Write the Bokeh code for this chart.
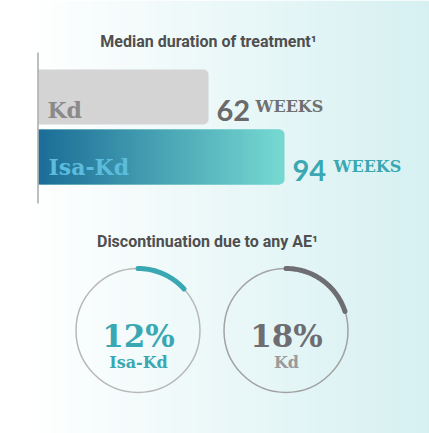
import numpy as np
from bokeh.plotting import figure
from bokeh.models import Range1d, ColumnDataSource
from bokeh.core.properties import value
from bokeh.embed import file_html
from bokeh.resources import INLINE

# ---------------- data ----------------
bar_groups = ["Kd", "Isa-Kd"]
median_weeks = [62, 94]
week_unit = "WEEKS"
title_top = "Median duration of treatment\u00b9"

discont_groups = ["Isa-Kd", "Kd"]
discont_pct = [12, 18]
title_bottom = "Discontinuation due to any AE\u00b9"

# ---------------- styles ----------------
TEAL = "#3aa8b3"
GRAY_DARK = "#6e6e72"
BAR_GRAY = "#d4d4d4"
GRAD_START = (27, 109, 151)
GRAD_END = (116, 215, 208)
BG_END = (214, 240, 241)

W, H = 429, 433
p = figure(width=W, height=H, x_range=Range1d(0, W), y_range=Range1d(H, 0),
           x_axis_type=None, y_axis_type=None, output_backend="svg",
           toolbar_location=None, min_border=0)
p.grid.visible = False
p.outline_line_color = None
p.background_fill_color = "white"
p.border_fill_color = "white"

# week scale for the bars (bars start left of 0 to leave room for labels)
p.extra_x_ranges = {"weeks": Range1d(-25.58, 155.05)}
BAR_ORIGIN = -9.6

# background gradient
n_bg = 120
xs = np.linspace(0, W, n_bg + 1)
bg_cols = []
for i in range(n_bg):
    xm = (xs[i] + xs[i + 1]) / 2
    t = min(max((xm - 25) / (W - 25), 0), 1)
    c = tuple(int(round(255 * (1 - t) + BG_END[k] * t)) for k in range(3))
    bg_cols.append("#%02x%02x%02x" % c)
p.quad(left=xs[:-1], right=xs[1:] + 0.6, top=0, bottom=H, fill_color=bg_cols, line_color=None)

def txt(x, y, s, font, size, color, bold=True, align="left", x_range_name="default"):
    p.text(x=[x], y=[y], text=[s], text_font=value(font), text_font_size=size,
           text_font_style="bold" if bold else "normal", text_color=color,
           text_align=align, text_baseline="alphabetic", x_range_name=x_range_name)

# ---------- top section ----------
txt(208, 40.5, title_top, "Roboto", "16px", "#4f4f4f", align="center")

bar_tops = [69, 129]
bar_bottoms = [124, 184]

# Kd bar (gray)
p.quad(left=[BAR_ORIGIN], right=[median_weeks[0]], top=[bar_tops[0]], bottom=[bar_bottoms[0]],
       fill_color=BAR_GRAY, line_color=None, border_radius=(0, 5, 5, 0), x_range_name="weeks")

# Isa-Kd bar (gradient)
p.quad(left=[BAR_ORIGIN], right=[median_weeks[1]], top=[bar_tops[1]], bottom=[bar_bottoms[1]],
       fill_color="#%02x%02x%02x" % GRAD_END, line_color=None, border_radius=(0, 5, 5, 0),
       x_range_name="weeks")
n_g = 90
gx = np.linspace(BAR_ORIGIN, median_weeks[1] - 2.2, n_g + 1)
gcols = []
for i in range(n_g):
    t = i / (n_g - 1)
    c = tuple(int(round(GRAD_START[k] * (1 - t) + GRAD_END[k] * t)) for k in range(3))
    gcols.append("#%02x%02x%02x" % c)
p.quad(left=gx[:-1], right=gx[1:] + 0.3, top=bar_tops[1], bottom=bar_bottoms[1],
       fill_color=gcols, line_color=None, x_range_name="weeks")

# axis line
p.segment(x0=[37.5], y0=[52], x1=[37.5], y1=[203], line_color="#a9a9a9", line_width=1.5)

# labels in bars
txt(47, 109, bar_groups[0], "DejaVu Serif", "22px", "#8a8a8a")
txt(48, 166.5, bar_groups[1], "DejaVu Serif", "22px", "#5cbcdc")

# values
txt(216, 110, str(median_weeks[0]), "Lato", "29px", "#6a6a6a")
txt(255, 106, week_unit, "DejaVu Serif", "16px", "#707070")
txt(292, 169.5, str(median_weeks[1]), "Lato", "29px", TEAL)
txt(333, 166, week_unit, "DejaVu Serif", "16px", TEAL)

# ---------- bottom section ----------
txt(207, 240.5, title_bottom, "Roboto", "16px", "#4f4f4f", align="center")

centers_x = [137.5, 285.5]
cy = 330
r = 62
ring_cols = ["#b8b8b8", "#a2a2a2"]
arc_cols = [TEAL, GRAY_DARK]
num_cols = [TEAL, "#6e6e72"]
lab_cols = [TEAL, "#9a9a9a"]
DEG_PER_PCT = 4.0  # gauge scale
for cx, pct, grp, rc, ac, nc, lc in zip(centers_x, discont_pct, discont_groups,
                                         ring_cols, arc_cols, num_cols, lab_cols):
    p.circle(x=[cx], y=[cy], radius=r, fill_color=None, line_color=rc, line_width=1.5)
    t = np.radians(np.linspace(0, pct * DEG_PER_PCT, 60))
    p.line(x=cx + r * np.sin(t), y=cy - r * np.cos(t), line_color=ac, line_width=5,
           line_cap="round")
    txt(cx + 0.5, 335, f"{pct}%", "DejaVu Serif", "31px", nc, align="center")
    txt(cx + 0.5, 362, grp, "DejaVu Serif", "16px", lc, align="center")

open("out.html", "w").write(file_html(p, INLINE))
